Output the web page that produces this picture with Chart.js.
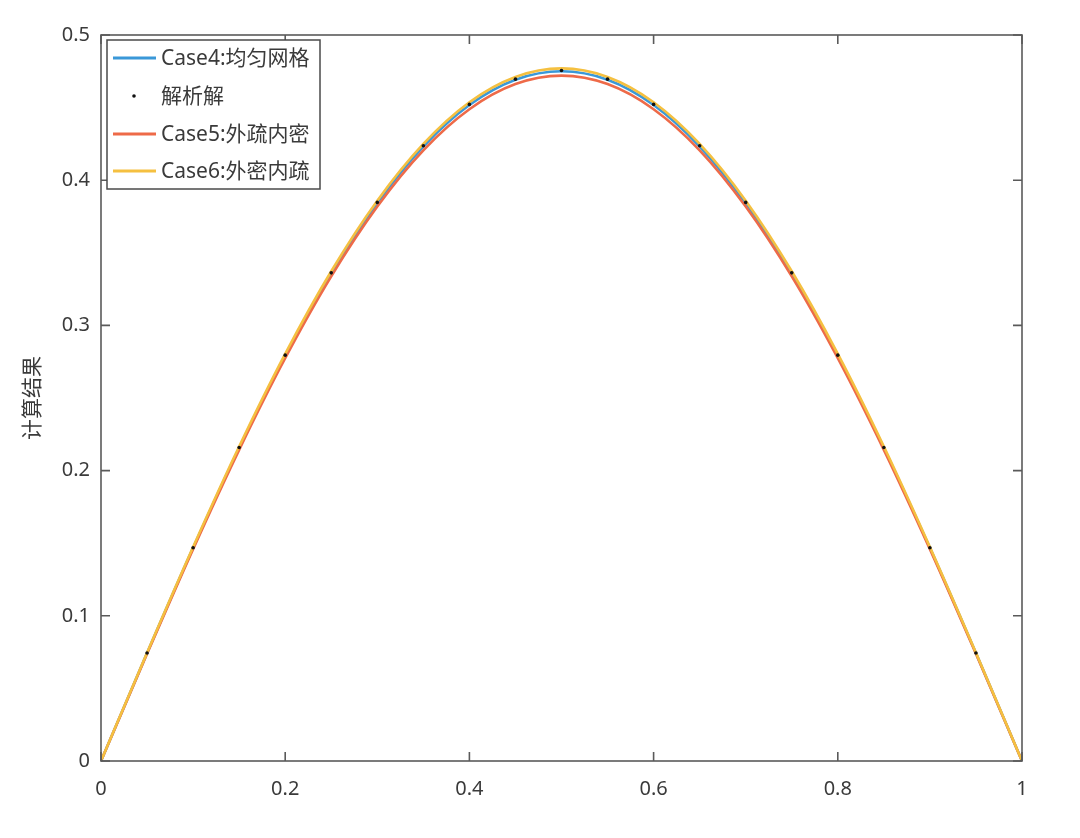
<!DOCTYPE html>
<html>
<head>
<meta charset="utf-8">
<script src="https://cdn.jsdelivr.net/npm/chart.js@4/dist/chart.umd.min.js"></script>
<style>
  html, body { margin: 0; padding: 0; background: #fff; }
  #wrap { width: 1080px; height: 838px; }
</style>
</head>
<body>
<div id="wrap"><canvas id="c" width="1080" height="838"></canvas></div>
<script>
// ---- data ----
const xValues = [0, 0.05, 0.1, 0.15, 0.2, 0.25, 0.3, 0.35, 0.4, 0.45, 0.5,
                 0.55, 0.6, 0.65, 0.7, 0.75, 0.8, 0.85, 0.9, 0.95, 1];
const case4Uniform = [0, 0.0743, 0.1468, 0.2156, 0.2792, 0.3359, 0.3843, 0.4232, 0.4518, 0.4692, 0.4750,
                      0.4692, 0.4518, 0.4232, 0.3843, 0.3359, 0.2792, 0.2156, 0.1468, 0.0743, 0];
const analytic = [0, 0.0744, 0.1469, 0.2159, 0.2795, 0.3362, 0.3847, 0.4237, 0.4522, 0.4696, 0.4755,
                  0.4696, 0.4522, 0.4237, 0.3847, 0.3362, 0.2795, 0.2159, 0.1469, 0.0744, 0];
const case5 = [0, 0.0738, 0.1459, 0.2143, 0.2774, 0.3338, 0.3819, 0.4206, 0.4489, 0.4662, 0.4720,
               0.4662, 0.4489, 0.4206, 0.3819, 0.3338, 0.2774, 0.2143, 0.1459, 0.0738, 0];
const case6 = [0, 0.0746, 0.1474, 0.2166, 0.2804, 0.3373, 0.3859, 0.4250, 0.4537, 0.4711, 0.4770,
               0.4711, 0.4537, 0.4250, 0.3859, 0.3373, 0.2804, 0.2166, 0.1474, 0.0746, 0];
const seriesLabels = ['Case4:均匀网格', '解析解', 'Case5:外疏内密', 'Case6:外密内疏'];
const xTicks = [0, 0.2, 0.4, 0.6, 0.8, 1];
const xTickLabels = ['0', '0.2', '0.4', '0.6', '0.8', '1'];
const yTicks = [0, 0.1, 0.2, 0.3, 0.4, 0.5];
const yTickLabels = ['0', '0.1', '0.2', '0.3', '0.4', '0.5'];
const yTitle = '计算结果';

const FONT = '"Noto Sans", "Noto Sans CJK SC", sans-serif';
const AXIS = '#5a5a5a';
const TEXT = '#3a3a3a';
const COLORS = ['#3a98d8', '#111111', '#ee6a48', '#f5c040'];

function pts(ys) { return xValues.map((x, i) => ({ x: x, y: ys[i] })); }

const boxPlugin = {
  id: 'matlabBox',
  afterDraw(chart) {
    const { ctx, chartArea: a, scales } = chart;
    ctx.save();
    ctx.strokeStyle = AXIS;
    ctx.lineWidth = 1.6;
    ctx.strokeRect(a.left, a.top, a.right - a.left, a.bottom - a.top);
    const tl = 9;
    ctx.beginPath();
    xTicks.forEach(v => {
      const px = scales.x.getPixelForValue(v);
      ctx.moveTo(px, a.bottom); ctx.lineTo(px, a.bottom - tl);
      ctx.moveTo(px, a.top); ctx.lineTo(px, a.top + tl);
    });
    yTicks.forEach(v => {
      const py = scales.y.getPixelForValue(v);
      ctx.moveTo(a.left, py); ctx.lineTo(a.left + tl, py);
      ctx.moveTo(a.right, py); ctx.lineTo(a.right - tl, py);
    });
    ctx.stroke();

    // legend
    const lx = 107, ly = 40, lw = 213, lh = 149;
    ctx.fillStyle = '#fff';
    ctx.fillRect(lx, ly, lw, lh);
    ctx.strokeStyle = '#4a4a4a';
    ctx.lineWidth = 1.5;
    ctx.strokeRect(lx, ly, lw, lh);
    const rows = [58, 96, 134, 171];
    ctx.font = '21px ' + FONT;
    ctx.textBaseline = 'middle';
    ctx.textAlign = 'left';
    chart.data.datasets.forEach((ds, i) => {
      const y = rows[i];
      if (ds.showLine === false) {
        ctx.fillStyle = ds.pointBackgroundColor;
        ctx.beginPath();
        ctx.arc(134, y, 1.8, 0, Math.PI * 2);
        ctx.fill();
      } else {
        ctx.strokeStyle = ds.borderColor;
        ctx.lineWidth = 3;
        ctx.beginPath();
        ctx.moveTo(113, y); ctx.lineTo(156, y);
        ctx.stroke();
      }
      ctx.fillStyle = TEXT;
      ctx.fillText(ds.label, 161, y + 1);
    });
    ctx.restore();
  }
};

new Chart(document.getElementById('c'), {
  type: 'line',
  data: {
    datasets: [
      { label: seriesLabels[0], data: pts(case4Uniform), borderColor: COLORS[0], borderWidth: 2.6,
        pointRadius: 0, cubicInterpolationMode: 'monotone', order: 3 },
      { label: seriesLabels[1], data: pts(analytic), showLine: false, pointRadius: 1.8,
        pointBackgroundColor: COLORS[1], pointBorderWidth: 0, borderColor: COLORS[1], order: 0 },
      { label: seriesLabels[2], data: pts(case5), borderColor: COLORS[2], borderWidth: 2.6,
        pointRadius: 0, cubicInterpolationMode: 'monotone', order: 2 },
      { label: seriesLabels[3], data: pts(case6), borderColor: COLORS[3], borderWidth: 2.6,
        pointRadius: 0, cubicInterpolationMode: 'monotone', order: 1 }
    ]
  },
  options: {
    responsive: false,
    animation: false,
    events: [],
    layout: { padding: { left: 0, top: 35, right: 58, bottom: 0 } },
    plugins: { legend: { display: false }, tooltip: { enabled: false } },
    scales: {
      x: {
        type: 'linear', min: 0, max: 1,
        grid: { display: false, drawTicks: false },
        border: { display: false },
        afterFit(s) { s.height = 77; },
        afterBuildTicks(s) { s.ticks = xTicks.map(v => ({ value: v })); },
        ticks: {
          padding: 16, color: TEXT, font: { family: FONT, size: 20 },
          maxRotation: 0,
          callback: (v) => xTickLabels[xTicks.indexOf(v)]
        }
      },
      y: {
        type: 'linear', min: 0, max: 0.5,
        grid: { display: false, drawTicks: false },
        border: { display: false },
        afterFit(s) { s.width = 101; },
        afterBuildTicks(s) { s.ticks = yTicks.map(v => ({ value: v })); },
        ticks: {
          padding: 11, color: TEXT, font: { family: FONT, size: 20 },
          callback: (v) => yTickLabels[yTicks.indexOf(v)]
        },
        title: {
          display: true, text: yTitle, color: TEXT,
          font: { family: FONT, size: 21 }, padding: { top: 20, bottom: 0 }
        }
      }
    }
  },
  plugins: [boxPlugin]
});
</script>
</body>
</html>
